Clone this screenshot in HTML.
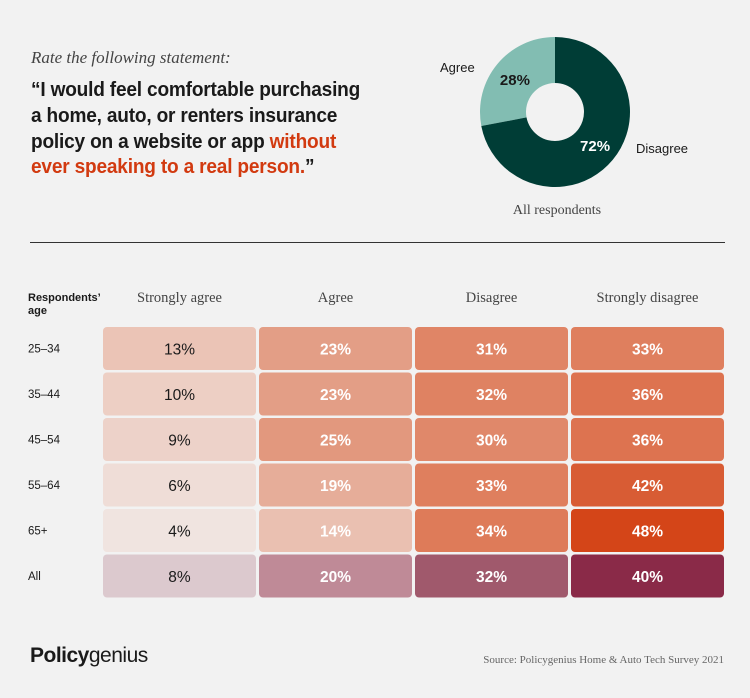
<!DOCTYPE html>
<html><head><meta charset="utf-8"><style>
body{margin:0;background:#f2f2f2;}
#root{position:relative;width:750px;height:698px;background:#f2f2f2;font-family:"Liberation Sans",sans-serif;color:#1a1a1a;overflow:hidden}
.abs{position:absolute}
.serif{font-family:"Liberation Serif",serif}
.st{white-space:nowrap;transform:scaleX(0.93);transform-origin:0 0}
</style></head><body>
<div id="root">
<div class="abs serif" style="left:31px;top:48px;font-size:17px;font-style:italic;color:#444">Rate the following statement:</div>
<div class="abs st" style="left:31px;top:77px;font-size:20.5px;font-weight:bold;line-height:25.8px;letter-spacing:-0.2px">“I would feel comfortable purchasing<br>a home, auto, or renters insurance<br>policy on a website or app <span style="color:#d23a10">without<br>ever speaking to a real person.</span>”</div>
<svg class="abs" style="left:0;top:0" width="750" height="698" id="chart"></svg>
<div class="abs" style="left:30px;top:644px;font-size:21px;letter-spacing:-0.5px"><b>Policy</b>genius</div>
<div class="abs serif" style="right:26px;top:654px;font-size:11px;color:#666">Source: Policygenius Home &amp; Auto Tech Survey 2021</div>
</div>
<script>
const NS="http://www.w3.org/2000/svg";
const svg=document.getElementById('chart');
const donutLabels=["Agree","Disagree"];
const donutValues=[28,72];
const columns=["Strongly agree","Agree","Disagree","Strongly disagree"];
const rows=["25–34","35–44","45–54","55–64","65+","All"];
const row2534=[13,23,31,33];
const row3544=[10,23,32,36];
const row4554=[9,25,30,36];
const row5564=[6,19,33,42];
const row65=[4,14,34,48];
const rowAll=[8,20,32,40];
const table=[row2534,row3544,row4554,row5564,row65,rowAll];
function mk(t,a,p){const e=document.createElementNS(NS,t);for(const k in a)e.setAttribute(k,a[k]);(p||svg).appendChild(e);return e;}
const cx=555,cy=112,R=75,r=29;
const total=donutValues.reduce((a,b)=>a+b,0);
const dcol=["#82bdb2","#003d36"];
let start=0;
donutValues.forEach((v,i)=>{
  const a0=-start/total*2*Math.PI, a1=-(start+v)/total*2*Math.PI;
  const p=(ang,rad)=>[cx+rad*Math.sin(ang),cy-rad*Math.cos(ang)];
  const [x0,y0]=p(a0,R),[x1,y1]=p(a1,R),[x2,y2]=p(a1,r),[x3,y3]=p(a0,r);
  const large=v/total>0.5?1:0;
  const el=mk('path',{d:`M${x0},${y0}A${R},${R} 0 ${large} 0 ${x1},${y1}L${x2},${y2}A${r},${r} 0 ${large} 1 ${x3},${y3}Z`,fill:dcol[i]});
  
  
  const mid=(a0+a1)/2;const [tx,ty]=p(mid,52);
  const t=mk('text',{x:tx,y:ty+6,'text-anchor':'middle','font-size':15,'font-weight':'bold',fill:i==0?'#1a1a1a':'#fff','font-family':'Liberation Sans'});
  t.textContent=v+'%';
  
  
  start+=v;
});
[[donutLabels[0],440,72],[donutLabels[1],636,153]].forEach(([s,x,y])=>{
  const t=mk('text',{x:x,y:y,'font-size':13,'font-family':'Liberation Sans',fill:'#1a1a1a'});t.textContent=s;
  
  
});
const cap=mk('text',{x:557,y:214,'text-anchor':'middle','font-size':14,'font-family':'Liberation Serif',fill:'#444'});cap.textContent="All respondents";


const ln=mk('line',{x1:30,x2:725,y1:242.5,y2:242.5,stroke:'#333','stroke-width':1});


const colX=c=>103+c*156, cellW=153, rowY=k=>327+k*45.5, cellH=43;
function hex(h){return [1,3,5].map(i=>parseInt(h.substr(i,2),16));}
function interp(stops,v){
  for(let i=0;i<stops.length-1;i++){const[a,ca]=stops[i],[b,cb]=stops[i+1];
    if(v<=b||i==stops.length-2){let t=Math.max(0,Math.min(1,(v-a)/(b-a)));const A=hex(ca),B=hex(cb);
      return 'rgb('+A.map((x,j)=>Math.round(x+(B[j]-x)*t)).join(',')+')';}}
}
const orange=[[4,"#f0e4e0"],[13,"#ebc4b6"],[23,"#e39e86"],[33,"#df7f5e"],[48,"#d44518"]];
const purple=[[8,"#dcc9ce"],[20,"#bf8a97"],[32,"#a0596c"],[40,"#8a2a48"]];
const h1=mk('text',{x:28,y:301,'font-size':11,'font-weight':'bold','font-family':'Liberation Sans',fill:'#1a1a1a'});
h1.innerHTML='<tspan x="28">Respondents’</tspan><tspan x="28" dy="13">age</tspan>';


columns.forEach((c,i)=>{const t=mk('text',{x:colX(i)+cellW/2,y:302,'text-anchor':'middle','font-size':14.5,'font-family':'Liberation Serif',fill:'#444'});t.textContent=c;
  
  });
rows.forEach((rn,k)=>{
  const t=mk('text',{x:28,y:rowY(k)+cellH/2+4,'font-size':11.5,'font-family':'Liberation Sans',fill:'#1a1a1a'});t.textContent=rn;
  
  
  table[k].forEach((v,c)=>{
    const fill=interp(k==5?purple:orange,v);
    const rc=mk('rect',{x:colX(c),y:rowY(k),width:cellW,height:cellH,rx:4,fill:fill});
    
    
    const tt=mk('text',{x:colX(c)+cellW/2,y:rowY(k)+cellH/2+6,'text-anchor':'middle','font-size':15.5,'font-weight':c==0?'normal':'bold','font-family':'Liberation Sans',fill:c==0?'#1a1a1a':'#fff'});
    tt.textContent=v+'%';
    
    
  });
});
</script>
</body></html>
